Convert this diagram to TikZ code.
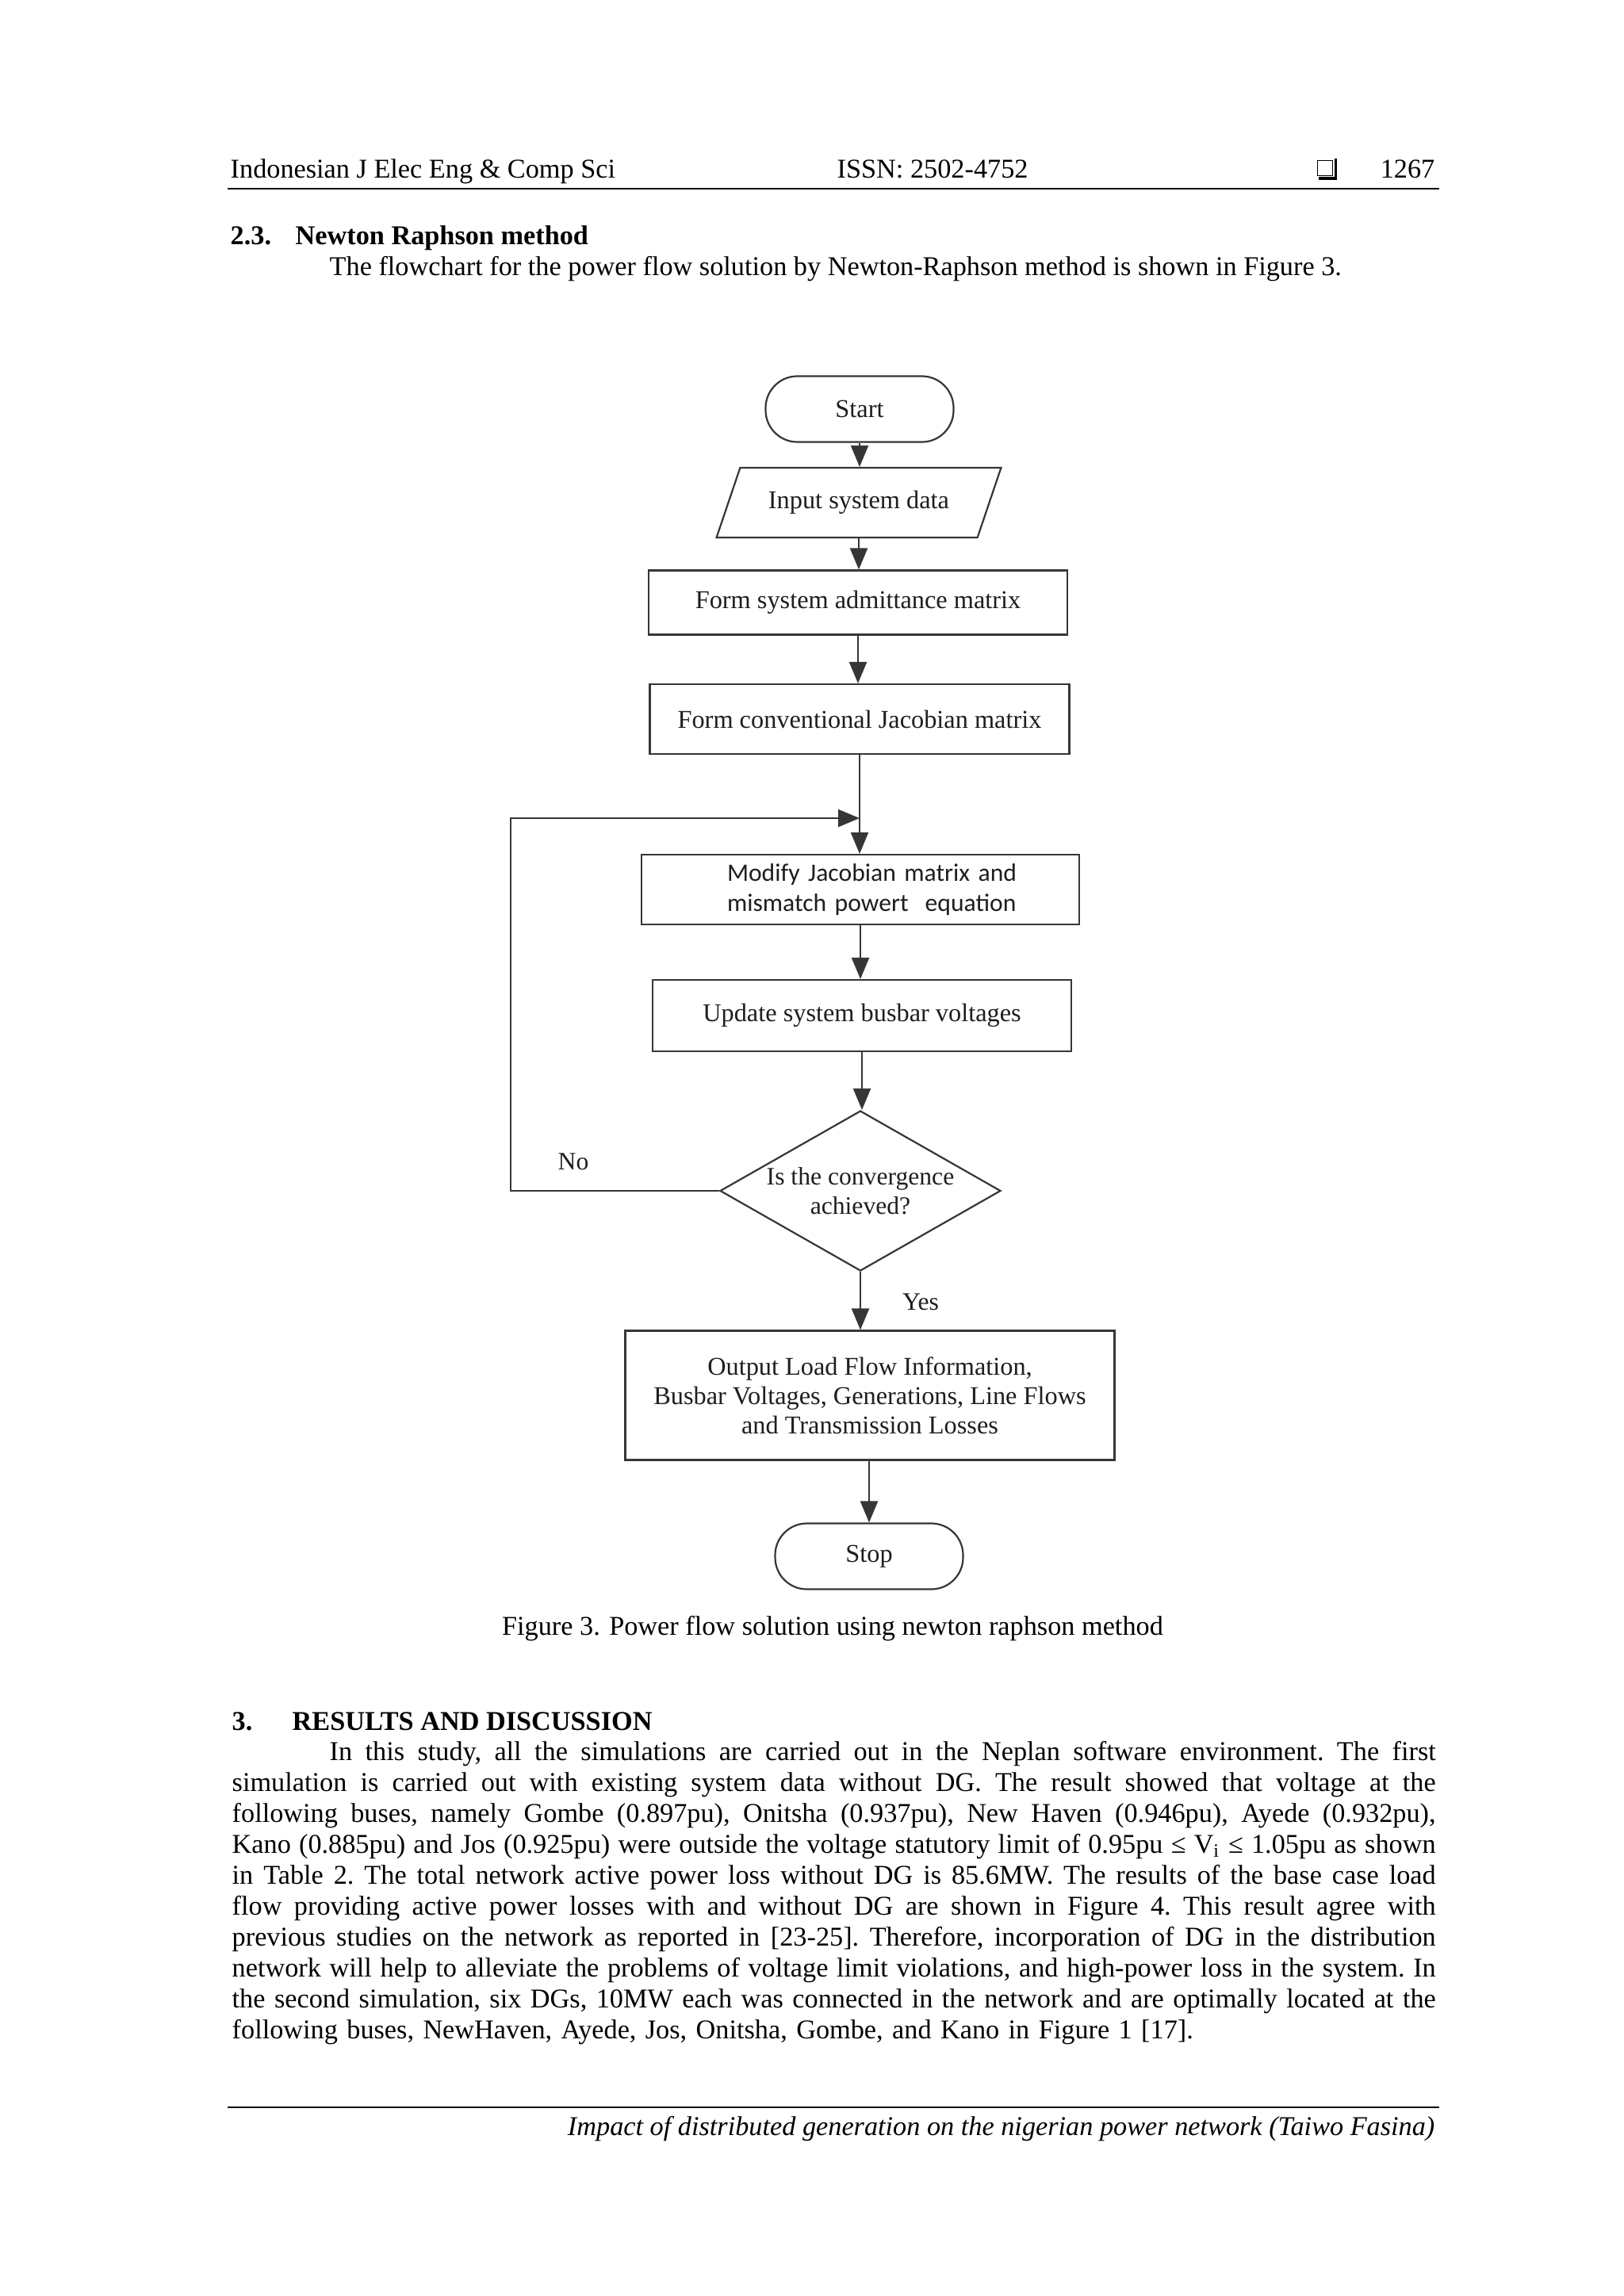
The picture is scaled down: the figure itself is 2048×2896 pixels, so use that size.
\documentclass[tikz,border=0pt]{standalone}
\usepackage{fontspec}
\setmainfont{Liberation Serif}
\newfontfamily\flowsans{Carlito}
\usepackage{tikz}
\usetikzlibrary{arrows.meta,positioning,calc,shapes.geometric}
\definecolor{flowline}{HTML}{363636}
\definecolor{flowtext}{HTML}{1E1E1E}
% one justified line of the body text
\newcommand{\bodyline}[1]{\leavevmode\hbox to 151.8mm{\frenchspacing\spaceskip=0.25em plus 1em minus 0.1em\relax #1}}

\begin{document}
\begin{tikzpicture}[
  x=0.1mm, y=-0.1mm,
  box/.style={draw=flowline, line width=0.22mm, align=center, inner sep=2pt, text=flowtext, font=\fontsize{9.2}{10.5}\selectfont},
  term/.style={box, rounded corners=4mm, minimum width=23.7mm, minimum height=8.3mm},
  io/.style={box, trapezium, trapezium left angle=61, trapezium right angle=119, trapezium stretches=true, minimum width=35.9mm, minimum height=8.8mm},
  decide/.style={box, diamond, inner sep=0pt, minimum width=35.4mm, minimum height=20.2mm},
  arr/.style={-{Triangle[length=2.7mm,width=2.2mm]}, draw=flowline, line width=0.22mm},
  lbl/.style={text=flowtext, font=\fontsize{9}{10.5}\selectfont},
  body/.style={inner sep=0pt, font=\fontsize{9.75}{11.1}\selectfont}
]
  \path[fill=white, use as bounding box] (0,0) rectangle (2048,2896);

  % running head
  \coordinate (headl) at (287,238);
  \coordinate (headr) at (1815,238);
  \draw[line width=0.25mm] (headl) -- (headr);
  \node[body, anchor=base west] (journal) at (290,225) {Indonesian J Elec Eng \& Comp Sci};
  \node[body, anchor=base west] (issn) at (1055,225) {ISSN: 2502-4752};
  \node[body, anchor=base east] (pageno) at (1810,225) {1267};
  \node[draw, line width=0.15mm, inner sep=0pt, minimum width=1.9mm, minimum height=1.9mm] (mark) at (1671,212) {};
  \draw[line width=0.35mm] ([shift={(3,-2)}]mark.north east) -- ([shift={(3,3)}]mark.south east) -- ([shift={(2,3)}]mark.south west);

  \node[body, anchor=base west] (sec) at (290,309) {\bfseries\makebox[8.2mm][l]{2.3.}Newton Raphson method};
  \node[body, anchor=base west] (intro) at (415,348) {The flowchart for the power flow solution by Newton-Raphson method is shown in Figure 3.};

  % flowchart
  \node[term] (start) at (1084,516) {Start};
  \node[io] (input) at (1083,634) {Input system data};
  \node[box, minimum width=52.8mm, minimum height=8.1mm] (ybus) at (1082,760) {Form system admittance matrix};
  \node[box, minimum width=52.9mm, minimum height=8.8mm] (jac) at (1084,907) {Form conventional Jacobian matrix};
  \node[box, text width=53.2mm, inner xsep=1mm, align=left, minimum height=8.8mm, font=\flowsans\fontsize{9}{11}\selectfont] (modify) at (1085,1122)
    {\hspace*{9.8mm}Modify Jacobian matrix and\\\hspace*{9.8mm}mismatch powert\ \ equation};
  \node[box, minimum width=52.8mm, minimum height=9mm] (update) at (1087,1281) {Update system busbar voltages};
  \node[decide, label={[lbl, align=center]center:{Is the convergence\\achieved?}}] (conv) at (1085,1502) {};
  \node[box, minimum width=61.7mm, minimum height=16.3mm] (output) at (1097,1760)
    {Output Load Flow Information,\\Busbar Voltages, Generations, Line Flows\\and Transmission Losses};
  \node[term] (stop) at (1096,1963) {Stop};

  \coordinate (merge) at (1084,1032);
  \coordinate (back) at (644,1502);
  \node[lbl] (no) at (723,1465) {No};
  \node[lbl] (yes) at (1161,1642) {Yes};

  \draw[arr] (start.south) -- (start.south |- input.north);
  \draw[arr] (input.south) -- (input.south |- ybus.north);
  \draw[arr] (ybus.south) -- (ybus.south |- jac.north);
  \draw[arr] (jac.south) -- (jac.south |- modify.north);
  \draw[arr] (modify.south) -- (modify.south |- update.north);
  \draw[arr] (update.south) -- (update.south |- conv.north);
  \draw[arr] (conv.south) -- (conv.south |- output.north);
  \draw[arr] (output.south -| stop.north) -- (stop.north);
  \draw[arr] (conv.west) -- (back) |- (merge);

  % caption and text
  \node[body, anchor=base] (caption) at (1050,2062) {Figure 3. Power flow solution using newton raphson method};
  \node[body, anchor=base west] (results) at (292,2182) {\bfseries\makebox[7.6mm][l]{3.}RESULTS AND DISCUSSION};
  \node[body, anchor=base west, text width=151.8mm, align=left] (para) at (292,2220) {%
\bodyline{\hspace*{12.3mm}In this study, all the simulations are carried out in the Neplan software environment. The first}\\
\bodyline{simulation is carried out with existing system data without DG. The result showed that voltage at the}\\
\bodyline{following buses, namely Gombe (0.897pu), Onitsha (0.937pu), New Haven (0.946pu), Ayede (0.932pu),}\\
\bodyline{Kano (0.885pu) and Jos (0.925pu) were outside the voltage statutory limit of 0.95pu ≤ V\textsubscript{i} ≤ 1.05pu as shown}\\
\bodyline{in Table 2. The total network active power loss without DG is 85.6MW. The results of the base case load}\\
\bodyline{flow providing active power losses with and without DG are shown in Figure 4. This result agree with}\\
\bodyline{previous studies on the network as reported in [23-25]. Therefore, incorporation of DG in the distribution}\\
\bodyline{network will help to alleviate the problems of voltage limit violations, and high-power loss in the system. In}\\
\bodyline{the second simulation, six DGs, 10MW each was connected in the network and are optimally located at the}\\
{\frenchspacing following buses, NewHaven, Ayede, Jos, Onitsha, Gombe, and Kano in Figure 1 [17].}};

  % running foot
  \coordinate (footl) at (287,2658);
  \coordinate (footr) at (1815,2658);
  \draw[line width=0.25mm] (footl) -- (footr);
  \node[body, anchor=base east] (footer) at (1810,2693) {\itshape Impact of distributed generation on the nigerian power network (Taiwo Fasina)};
\end{tikzpicture}
\end{document}
